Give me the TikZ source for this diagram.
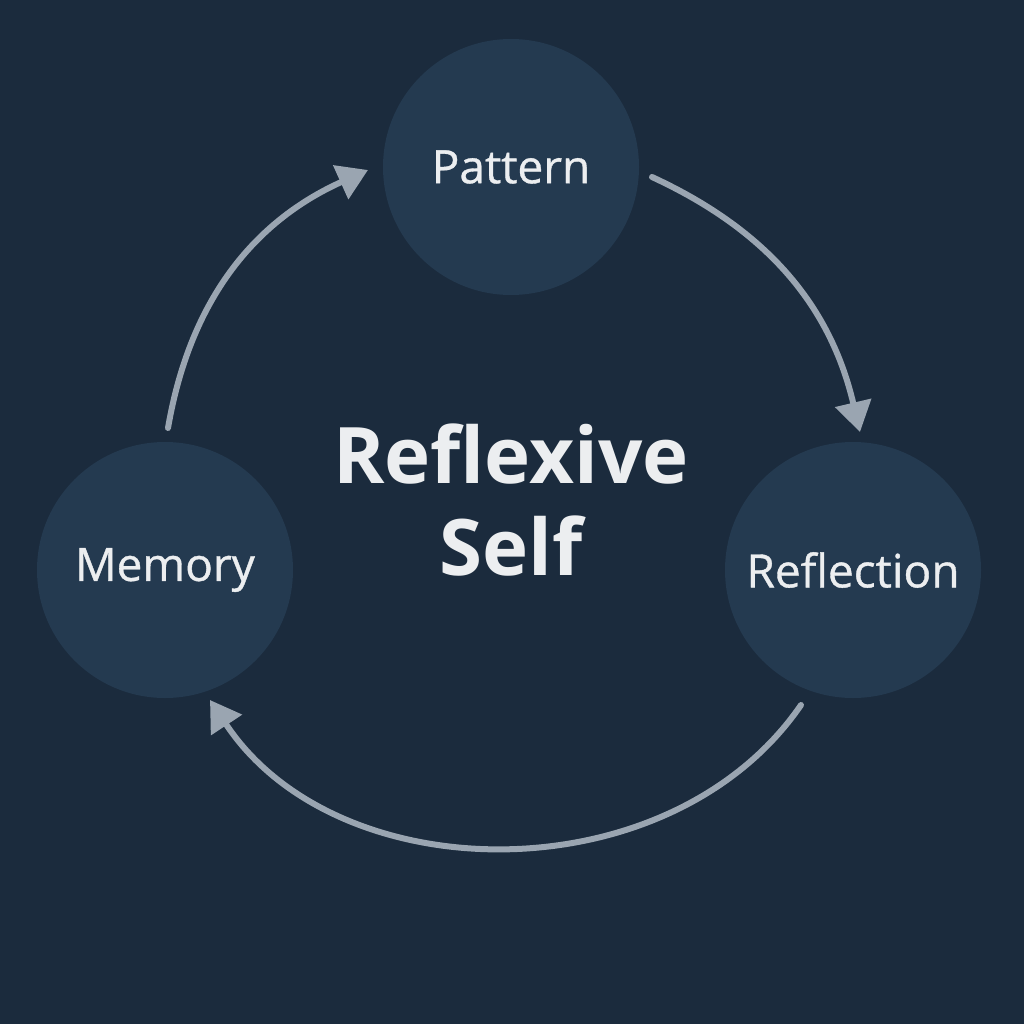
\documentclass[tikz,border=0pt]{standalone}
\usepackage{fontspec}
\setmainfont{Open Sans}
\newfontfamily\medfont{Open Sans}[FakeBold=0.8]
\usetikzlibrary{arrows.meta}
\definecolor{bg}{HTML}{1B2B3D}
\definecolor{nodefill}{HTML}{243A50}
\definecolor{arr}{HTML}{9AA5B1}
\definecolor{txt}{HTML}{ECEEF0}
\begin{document}
\begin{tikzpicture}[x=1pt,y=-1pt,
  stage/.style={circle,fill=nodefill,minimum size=256pt,inner sep=0pt,text=txt,font=\medfont\fontsize{46}{52}\selectfont},
  flow/.style={draw=arr,line width=6pt,line cap=round,-{Triangle[length=30pt,width=36pt]}}]
\fill[bg] (0,0) rectangle (1024,1024);
\useasboundingbox (0,0) rectangle (1024,1024);
\node[stage] (pat) at (511,167) {Pattern};
\node[stage] (ref) at (853,570) {Reflection};
\node[stage] (mem) at (165,570) {Memory};
\node[text=txt,font=\bfseries\fontsize{78}{92}\selectfont,align=center] (self) at (511,500) {Reflexive\\Self};
\coordinate (a1) at (168,428);
\coordinate (a2) at (368,170);
\coordinate (b1) at (652,177);
\coordinate (b2) at (860,432);
\coordinate (c1) at (801,705);
\coordinate (c2) at (210,700);
\draw[flow] (a1) to[bend left=28] (a2);
\draw[flow] (b1) to[bend left=26] (b2);
\draw[flow] (c1) to[bend left=56] (c2);
\end{tikzpicture}
\end{document}
